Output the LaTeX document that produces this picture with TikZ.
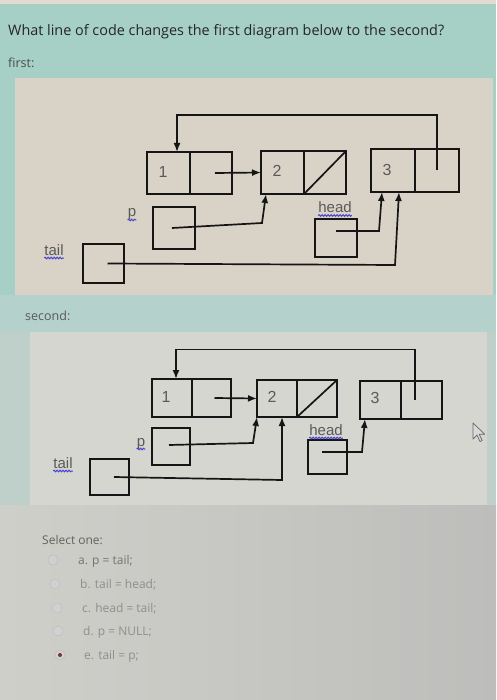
\documentclass[tikz,border=0pt]{standalone}
\usepackage{fontspec}
\setmainfont{Open Sans}
\newfontfamily\arialf{Liberation Sans}
\usetikzlibrary{arrows.meta,decorations.pathmorphing}
\definecolor{teal1}{HTML}{A6CFC6}
\definecolor{teal2}{HTML}{B4D1CC}
\definecolor{sidec}{HTML}{BFCFC9}
\definecolor{panelA}{HTML}{D9D2C7}
\definecolor{panelB}{HTML}{D5D6D0}
\definecolor{lowL}{HTML}{CFCFCA}
\definecolor{lowR}{HTML}{BDBDBB}
\definecolor{ink}{HTML}{151515}
\definecolor{txtgray}{HTML}{5A5A5A}
\definecolor{opt}{HTML}{8E8E8E}
\definecolor{squig}{HTML}{4A45CF}
\tikzset{
  cell/.style={draw=ink, line width=1.7pt, inner sep=0pt, outer sep=0pt, rectangle},
  ptr/.style={draw=ink, line width=1.7pt, -{Latex[length=9pt,width=7pt]}},
  plainline/.style={draw=ink, line width=1.7pt},
  digit/.style={font=\arialf\fontsize{16}{18}\selectfont, text=txtgray, inner sep=0pt},
  varlbl/.style={font=\arialf\fontsize{15}{17}\selectfont, text=txtgray, inner sep=0pt, anchor=base},
  wavy/.style={draw=squig, line width=1pt, decorate, decoration={snake, amplitude=0.8pt, segment length=3pt}},
  qtext/.style={inner sep=0pt, anchor=base west},
  radio/.style={circle, draw=black!25, fill=black!18, minimum size=10pt, inner sep=0pt, line width=0.6pt},
  opttext/.style={inner sep=0pt, anchor=base west, text=opt, font=\fontsize{12}{14}\selectfont}
}
\begin{document}
\begin{tikzpicture}[x=1pt,y=-1pt]
\useasboundingbox (0,0) rectangle (496,700);
% backgrounds
\fill[teal1] (0,0) rectangle (496,300);
\fill[panelA!80!white] (0,0) rectangle (496,4);
\fill[panelA] (15,78) rectangle (493,295);
\fill[teal2] (0,295) rectangle (496,332);
\fill[sidec] (0,332) rectangle (496,505);
\fill[panelB] (30,332) rectangle (487,505);
\shade[left color=lowL, right color=lowR] (0,505) rectangle (496,700);

% texts
\node[qtext, text=black!85, font=\fontsize{14.4}{16}\selectfont] (q) at (8,36) {What line of code changes the first diagram below to the second?};
\node[qtext, text=black!70, font=\fontsize{12.5}{14}\selectfont] (first) at (8,68) {first:};
\node[qtext, text=black!65, font=\fontsize{12.5}{14}\selectfont] (second) at (25,320) {second:};

% ===== first diagram =====
\node[cell, minimum width=43pt, minimum height=42pt] (an1d) at (168.5,173) {};
\node[cell, minimum width=42pt, minimum height=42pt] (an1n) at (211,173) {};
\node[cell, minimum width=43pt, minimum height=43pt] (an2d) at (282.5,172.5) {};
\node[cell, minimum width=42pt, minimum height=43pt] (an2n) at (325,172.5) {};
\node[cell, minimum width=44pt, minimum height=43pt] (an3d) at (393,170.5) {};
\node[cell, minimum width=44pt, minimum height=43pt] (an3n) at (437,170.5) {};
\node[digit] (a1) at (163,172) {1};
\node[digit] (a2) at (277,171) {2};
\node[digit] (a3) at (387,170) {3};
\draw[plainline] (an2n.south west) -- (an2n.north east);

\node[cell, minimum width=42pt, minimum height=42pt] (ap) at (174,228) {};
\node[cell, minimum width=42pt, minimum height=38pt] (ahead) at (336,238) {};
\node[cell, minimum width=41pt, minimum height=39pt] (atail) at (103.5,263.5) {};

\node[varlbl] (aplbl) at (132,217) {p};
\node[varlbl] (aheadlbl) at (335,212.5) {head};
\node[varlbl] (ataillbl) at (54,255) {tail};
\foreach \l in {aplbl,aheadlbl,ataillbl}
  \draw[wavy] ([yshift=-3pt]\l.base west) -- ([yshift=-3pt]\l.base east);

\draw[ptr] (an3n.center) -- ++(0,-55.5) -| ([xshift=8.5pt]an1d.north);
\draw[ptr] ([xshift=4pt]an1n.center) -- (an2d.west);
\draw[ptr] ([xshift=-2pt]ap.center) -- (262,223) -- ([xshift=5pt]an2d.south west);
\draw[ptr] ([yshift=7pt]ahead.center) -- (379,231) -- ([xshift=11pt]an3d.south west);
\draw[ptr] ([xshift=4pt]atail.center) -- (395,265) -- ([xshift=28pt]an3d.south west);

% ===== second diagram =====
\node[cell, minimum width=40pt, minimum height=38pt] (bn1d) at (172,398) {};
\node[cell, minimum width=39pt, minimum height=38pt] (bn1n) at (211.5,398) {};
\node[cell, minimum width=40pt, minimum height=37pt] (bn2d) at (277,398.5) {};
\node[cell, minimum width=40pt, minimum height=37pt] (bn2n) at (317,398.5) {};
\node[cell, minimum width=41pt, minimum height=38pt] (bn3d) at (380.5,400) {};
\node[cell, minimum width=41pt, minimum height=38pt] (bn3n) at (421.5,400) {};
\node[digit] (b1) at (166,397) {1};
\node[digit] (b2) at (272,397) {2};
\node[digit] (b3) at (375,398) {3};
\draw[plainline] (bn2n.south west) -- (bn2n.north east);

\node[cell, minimum width=38pt, minimum height=37pt] (bp) at (171,446.5) {};
\node[cell, minimum width=39pt, minimum height=34pt] (bhead) at (327.5,457) {};
\node[cell, minimum width=39pt, minimum height=36pt] (btail) at (109.5,477) {};

\node[varlbl] (bplbl) at (141,446) {p};
\node[varlbl] (bheadlbl) at (326,435) {head};
\node[varlbl] (btaillbl) at (63,468) {tail};
\foreach \l in {bplbl,bheadlbl,btaillbl}
  \draw[wavy] ([yshift=-3pt]\l.base west) -- ([yshift=-3pt]\l.base east);

\draw[ptr] ([xshift=-6.5pt]bn3n.center) -- ++(0,-50.5) -| ([xshift=4pt]bn1d.north);
\draw[ptr] ([xshift=3pt]bn1n.center) -- (bn2d.west);
\draw[ptr] ([xshift=-2pt,yshift=1.5pt]bp.center) -- (253,443) -- (bn2d.south west);
\draw[ptr] ([xshift=-5.5pt,yshift=5pt]bhead.center) -- (362,452) -- ([xshift=5pt]bn3d.south west);
\draw[ptr] ([xshift=4.5pt]btail.center) -- (282,480) -- ([xshift=25pt]bn2d.south west);

% cursor
\coordinate (cur) at (473,423);
\draw[draw=black!60, fill=white!85!black, line width=0.7pt, line join=round]
  (cur) -- ++(0,16) -- ++(4,-4) -- ++(3,6.5) -- ++(2.2,-1) -- ++(-3,-6.3) -- ++(5.5,0) -- cycle;

% options
\node[qtext, text=black!62, font=\fontsize{12}{14}\selectfont] (sel) at (42,544) {Select one:};
\node[radio] (ra) at (53,560) {};
\node[radio] (rb) at (55,584) {};
\node[radio] (rc) at (57,608) {};
\node[radio] (rd) at (58,631) {};
\node[radio] (re) at (60,655) {};
\fill[black!55!red!60!gray] (re.center) circle (2pt);
\node[opttext, text=black!55] (oa) at (78,564) {a. p = tail;};
\node[opttext] (ob) at (80,588) {b. tail = head;};
\node[opttext] (oc) at (82,612) {c. head = tail;};
\node[opttext] (od) at (83,635) {d. p = NULL;};
\node[opttext] (oe) at (84,659) {e. tail = p;};
\end{tikzpicture}
\end{document}
